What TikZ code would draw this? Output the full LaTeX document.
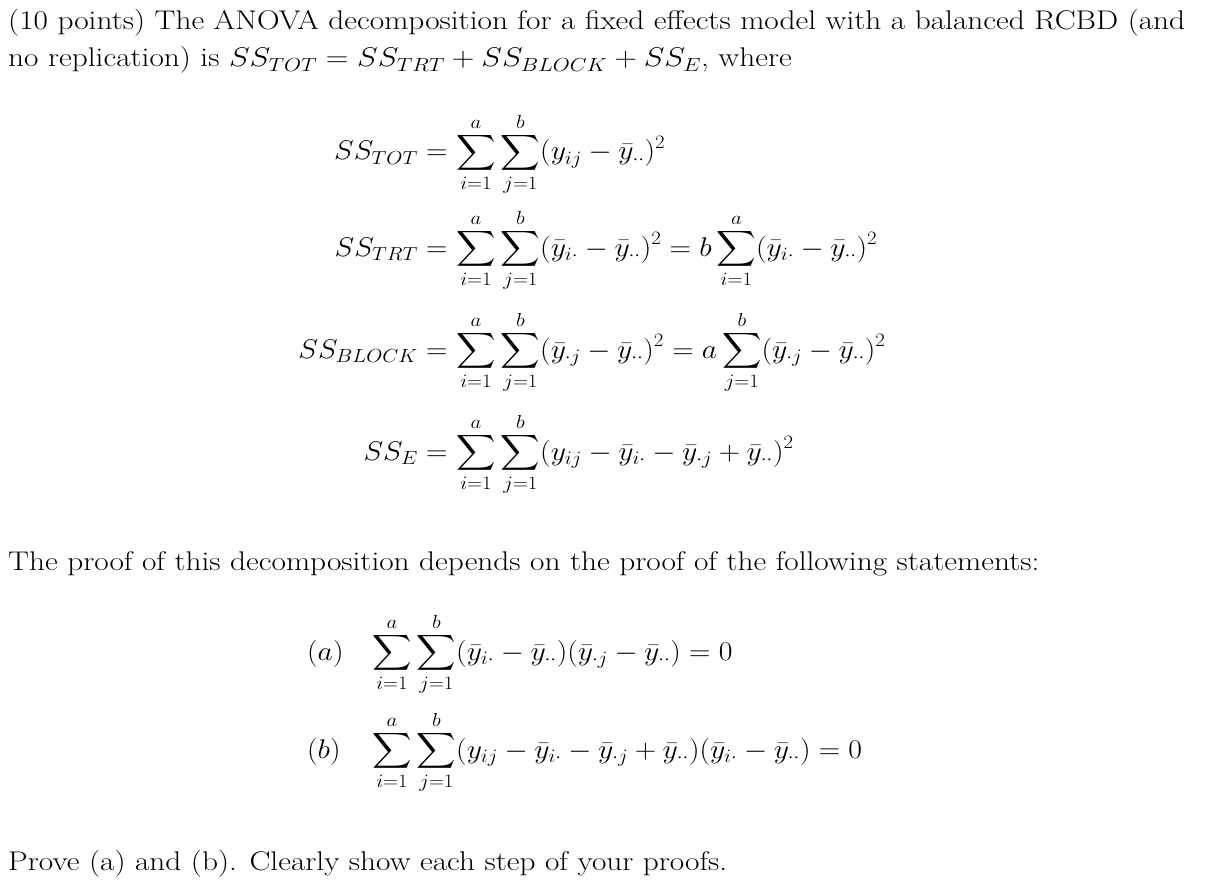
\RequirePackage{fix-cm}
\documentclass[tikz,border=0pt]{standalone}
\usepackage{amsmath}
\usepackage{fontspec}
\begin{document}
\begin{tikzpicture}[x=1pt,y=1pt,
  txt/.style={inner sep=0pt,anchor=base west,font=\fontsize{27}{37}\selectfont,xscale=1.16,transform shape},
  lhs/.style={inner sep=0pt,anchor=base east,font=\fontsize{27}{37}\selectfont,xscale=1.1,transform shape},
  rhs/.style={inner sep=0pt,anchor=base west,font=\fontsize{27}{37}\selectfont,xscale=1.1,transform shape}]
\useasboundingbox[fill=white] (0,0) rectangle (1212,-896);
\node[txt] (l1) at (8,-30) {(10 points) The ANOVA decomposition for a fixed effects model with a balanced RCBD (and};
\node[txt] (l2) at (8,-67) {no replication) is $SS_{TOT}=SS_{TRT}+SS_{BLOCK}+SS_{E}$, where};
\node[lhs] (e1l) at (456,-160) {$SS_{TOT}={}$};
\node[rhs] (e1r) at (456,-160) {$\displaystyle\sum_{i=1}^{a}\sum_{j=1}^{b}(y_{ij}-\bar y_{\cdot\cdot})^2$};
\node[lhs] (e2l) at (456,-256) {$SS_{TRT}={}$};
\node[rhs] (e2r) at (456,-256) {$\displaystyle\sum_{i=1}^{a}\sum_{j=1}^{b}(\bar y_{i\cdot}-\bar y_{\cdot\cdot})^2=b\sum_{i=1}^{a}(\bar y_{i\cdot}-\bar y_{\cdot\cdot})^2$};
\node[lhs] (e3l) at (456,-358) {$SS_{BLOCK}={}$};
\node[rhs] (e3r) at (456,-358) {$\displaystyle\sum_{i=1}^{a}\sum_{j=1}^{b}(\bar y_{\cdot j}-\bar y_{\cdot\cdot})^2=a\sum_{j=1}^{b}(\bar y_{\cdot j}-\bar y_{\cdot\cdot})^2$};
\node[lhs] (e4l) at (456,-460) {$SS_{E}={}$};
\node[rhs] (e4r) at (456,-460) {$\displaystyle\sum_{i=1}^{a}\sum_{j=1}^{b}(y_{ij}-\bar y_{i\cdot}-\bar y_{\cdot j}+\bar y_{\cdot\cdot})^2$};
\node[txt] (l3) at (8,-570) {The proof of this decomposition depends on the proof of the following statements:};
\node[rhs] (al) at (307,-660) {$(a)$};
\node[rhs] (ar) at (372,-660) {$\displaystyle\sum_{i=1}^{a}\sum_{j=1}^{b}(\bar y_{i\cdot}-\bar y_{\cdot\cdot})(\bar y_{\cdot j}-\bar y_{\cdot\cdot})=0$};
\node[rhs] (bl) at (307,-758) {$(b)$};
\node[rhs] (br) at (372,-758) {$\displaystyle\sum_{i=1}^{a}\sum_{j=1}^{b}(y_{ij}-\bar y_{i\cdot}-\bar y_{\cdot j}+\bar y_{\cdot\cdot})(\bar y_{i\cdot}-\bar y_{\cdot\cdot})=0$};
\node[txt] (l4) at (8,-870) {Prove (a) and (b). Clearly show each step of your proofs.};
\end{tikzpicture}
\end{document}
